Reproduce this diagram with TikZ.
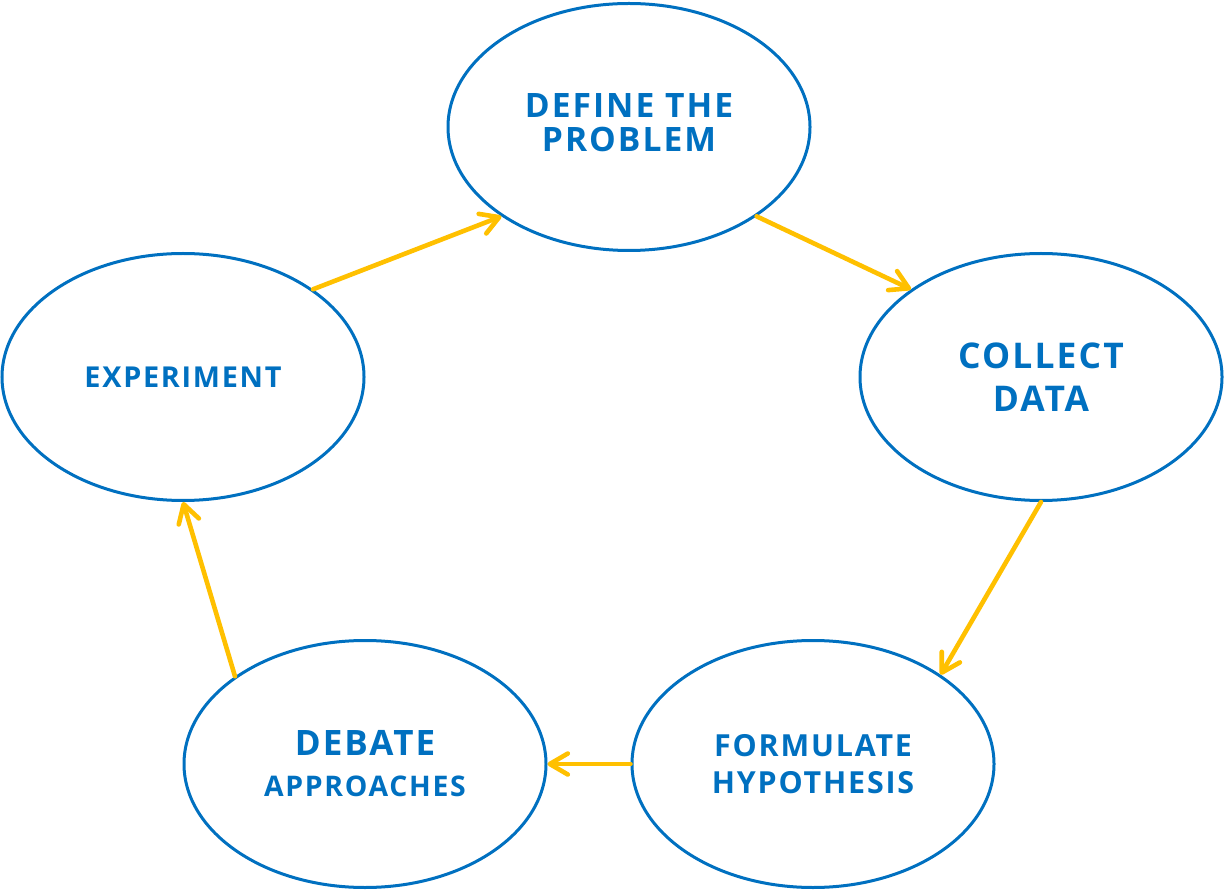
\documentclass[tikz,border=0pt]{standalone}
\usepackage{fontspec}
\setmainfont{Open Sans}[LetterSpace=6]
\usetikzlibrary{shapes,arrows.meta,positioning}
\definecolor{stageblue}{HTML}{0070C0}
\definecolor{flowgold}{HTML}{FFC000}
\tikzset{
  stage/.style={ellipse, draw=stageblue, line width=1.5pt, text=stageblue,
    minimum width=181pt, minimum height=123.5pt, inner sep=0pt, align=center},
  flow/.style={draw=flowgold, line width=2.3pt, line cap=round,
    -{Straight Barb[round,length=9pt,width=10.5pt]}}
}
\begin{document}
\begin{tikzpicture}[x=0.5pt,y=-0.5pt]
\useasboundingbox (0,0) rectangle (1225,892);
\node[stage, font=\fontsize{16.8}{17}\selectfont\bfseries] (define) at (629,127) {DEFINE THE\\PROBLEM\rule[-4pt]{0pt}{4pt}};
\node[stage, font=\fontsize{17.7}{21.5}\selectfont\bfseries] (collect) at (1041,377) {COLLECT\\DATA};
\node[stage, font=\fontsize{15.2}{18.5}\selectfont\bfseries] (formulate) at (813,764) {FORMULATE\\HYPOTHESIS};
\node[stage, font=\fontsize{14.2}{20.5}\selectfont\bfseries] (debate) at (365,764) {{\fontsize{17.5}{20.5}\selectfont DEBATE}\\APPROACHES};
\node[stage, font=\fontsize{14.4}{17}\selectfont\bfseries] (experiment) at (183,377) {EXPERIMENT};
\draw[flow] (experiment.34) -- (define.-145);   % back to start
\draw[flow] (define.-35) -- (collect.146);
\draw[flow] (collect.south) -- (formulate.35);
\draw[flow] (formulate.west) -- (debate.east);
\draw[flow] (debate.146) -- (experiment.south);
\end{tikzpicture}
\end{document}
